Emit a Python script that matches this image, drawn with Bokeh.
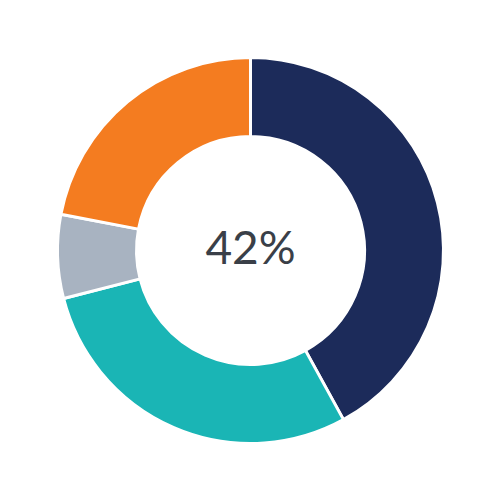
import math
from bokeh.plotting import figure
from bokeh.models import ColumnDataSource
from bokeh.core.properties import value
from bokeh.embed import file_html
from bokeh.resources import INLINE

categories = ["A", "B", "C", "D"]
values = [42, 29, 7, 22]
colors = ["#1c2b5a", "#1ab5b5", "#a8b3c1", "#f47c20"]
center_label = "42%"

total = sum(values)
starts, ends = [], []
acc = 0.0
for v in values:
    starts.append(math.pi / 2 - acc / total * 2 * math.pi)
    acc += v
    ends.append(math.pi / 2 - acc / total * 2 * math.pi)

src = ColumnDataSource(dict(cat=categories, val=values, color=colors, start=starts, end=ends))

p = figure(width=484, height=484, x_range=(-250, 234), y_range=(-234, 250),
           output_backend="svg", toolbar_location=None, min_border=0)
p.axis.visible = False
p.grid.visible = False
p.outline_line_color = None
p.background_fill_color = "white"
p.border_fill_color = "white"

p.annular_wedge(x=0, y=0, inner_radius=114, outer_radius=193,
                start_angle="start", end_angle="end", direction="clock",
                fill_color="color", line_color="white", line_width=3, source=src)

p.text(x=[0], y=[0], text=[center_label], text_align="center", text_baseline="middle",
       y_offset=-4, text_font=value("Lato"), text_font_size="46px", text_color="#3a3f48")

open("out.html", "w").write(file_html(p, INLINE))
